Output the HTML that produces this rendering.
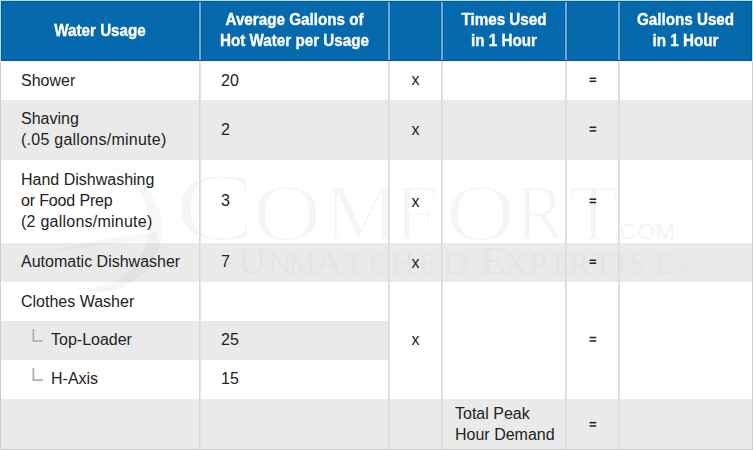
<!DOCTYPE html>
<html><head><meta charset="utf-8">
<style>
html,body{margin:0;padding:0;}
body{width:753px;height:450px;position:relative;overflow:hidden;background:#fff;font-family:"Liberation Sans",sans-serif;}
.a{position:absolute;}
.hd{position:absolute;color:#fff;font-weight:bold;font-size:16px;line-height:21.3px;text-align:center;white-space:nowrap;transform:scaleX(0.95);-webkit-text-stroke:0.35px #fff;}
.t{position:absolute;color:#222;font-size:16px;line-height:21.5px;white-space:nowrap;}
.vl{position:absolute;width:1px;background:#d9d9d9;top:61px;height:388px;}
.vr{position:absolute;width:1px;background:#e4e4e4;top:61px;height:388px;}
.hv{position:absolute;width:2px;background:#66ade0;top:1px;height:59px;}
.hh{position:absolute;width:1px;background:#055d99;top:1px;height:59px;}
.c{position:absolute;color:#222;font-size:16px;line-height:20px;text-align:center;}
.e{position:absolute;color:#222;font-size:13px;line-height:20px;text-align:center;}
</style></head><body>
<!-- header -->
<div class="a" style="left:0;top:0;width:753px;height:61px;background:#0569ae;"></div>
<div class="a" style="left:0;top:60px;width:753px;height:1px;background:#07568c;"></div>
<div class="a" style="left:0;top:61px;width:753px;height:1px;background:#eefbff;"></div>

<!-- gray rows -->
<div class="a" style="left:0;top:100px;width:753px;height:60px;background:#eaeaea;"></div>
<div class="a" style="left:0;top:243px;width:753px;height:39px;background:#eaeaea;"></div>
<div class="a" style="left:0;top:321px;width:389px;height:39px;background:#eaeaea;"></div>
<div class="a" style="left:0;top:399px;width:753px;height:51px;background:#eaeaea;"></div>

<!-- watermark -->
<svg class="a" style="left:0;top:0;" width="753" height="450">
<defs><mask id="cm"><rect width="753" height="450" fill="#fff"/><circle cx="86" cy="225" r="63" fill="#000"/></mask></defs>
<g fill="#000" fill-opacity="0.03">
<circle cx="99" cy="229" r="63" mask="url(#cm)"/>
<path d="M158 232 C130 235 90 240 52 252 C90 245 130 242 156 241 Z"/>
</g>
<g fill="#f5f5f5" stroke="#fff" stroke-width="2" font-family="Liberation Serif">
<text transform="translate(175 240) scale(1.236 1)" font-size="97">C</text>
<text transform="translate(252.4 240) scale(1.196 1)" font-size="80">O</text>
<text transform="translate(324 240) scale(1.045 1)" font-size="80">M</text>
<text transform="translate(394 240)" font-size="80">F</text>
<text transform="translate(445.4 240) scale(1.216 1)" font-size="80">O</text>
<text transform="translate(515.1 240) scale(0.94 1)" font-size="80">R</text>
<text transform="translate(569 240)" font-size="80">T</text>
</g>
<g fill="#f4f4f4" font-family="Liberation Sans">
<text transform="translate(613 239) scale(1.08 1)" font-size="22">.COM</text>
</g>
<g fill="#e4e4e4" font-family="Liberation Serif">
<text transform="translate(238 274)" font-size="39">U</text>
<text transform="translate(268 274)" font-size="32">N</text>
<text transform="translate(289 274) scale(0.92 1)" font-size="32">M</text>
<text transform="translate(314 274) scale(1.3 1)" font-size="32">A</text>
<text transform="translate(344 274)" font-size="32">T</text>
<text transform="translate(370 274) scale(0.84 1)" font-size="32">C</text>
<text transform="translate(391 274)" font-size="32">H</text>
<text transform="translate(419 274) scale(0.88 1)" font-size="32">E</text>
<text transform="translate(443 274) scale(1.14 1)" font-size="32">D</text>
<text transform="translate(480 274) scale(1.1 1)" font-size="39">E</text>
<text transform="translate(504 274)" font-size="32">X</text>
<text transform="translate(529 274)" font-size="32">P</text>
<text transform="translate(553 274) scale(0.88 1)" font-size="32">E</text>
<text transform="translate(569 274)" font-size="32">R</text>
<text transform="translate(592 274) scale(1.1 1)" font-size="32">T</text>
<text transform="translate(617 274) scale(0.8 1)" font-size="32">I</text>
<text transform="translate(629 274) scale(0.93 1)" font-size="32">S</text>
<text transform="translate(655 274)" font-size="32">E</text>
<text transform="translate(680 274) scale(1.15 1)" font-size="17" font-family="Liberation Sans">&#174;</text>
</g>
</svg>
<!-- vertical lines body -->
<div class="vl" style="left:199px;"></div><div class="vr" style="left:200px;"></div>
<div class="vl" style="left:388px;"></div><div class="vr" style="left:389px;"></div>
<div class="vl" style="left:441px;"></div><div class="vr" style="left:442px;"></div>
<div class="vl" style="left:565px;"></div><div class="vr" style="left:566px;"></div>
<div class="vl" style="left:618px;"></div><div class="vr" style="left:619px;"></div>
<!-- header lines -->
<div class="hh" style="left:198px;"></div><div class="hv" style="left:199px;"></div><div class="hh" style="left:201px;"></div>
<div class="hh" style="left:387px;"></div><div class="hv" style="left:388px;"></div><div class="hh" style="left:390px;"></div>
<div class="hh" style="left:440px;"></div><div class="hv" style="left:441px;"></div><div class="hh" style="left:443px;"></div>
<div class="hh" style="left:564px;"></div><div class="hv" style="left:565px;"></div><div class="hh" style="left:567px;"></div>
<div class="hh" style="left:617px;"></div><div class="hv" style="left:618px;"></div><div class="hh" style="left:620px;"></div>

<!-- borders -->
<div class="a" style="left:0;top:0;width:753px;height:1px;background:#b5daf2;"></div>
<div class="a" style="left:0;top:1px;width:753px;height:1px;background:#055a94;"></div>
<div class="a" style="left:0;top:0;width:1px;height:61px;background:#b5daf2;"></div>
<div class="a" style="left:1px;top:1px;width:1px;height:60px;background:#055a94;"></div>
<div class="a" style="left:752px;top:0;width:1px;height:61px;background:#c5dced;"></div>
<div class="a" style="left:751px;top:1px;width:1px;height:60px;background:#055a94;"></div>
<div class="a" style="left:0;top:62px;width:1px;height:388px;background:#cdcdcd;"></div>
<div class="a" style="left:752px;top:62px;width:1px;height:388px;background:#cdcdcd;"></div>
<div class="a" style="left:0;top:449px;width:753px;height:1px;background:#cdcdcd;"></div>

<!-- header text -->
<div class="hd" style="left:0;width:200px;top:20px;">Water Usage</div>
<div class="hd" style="left:200px;width:189px;top:9px;">Average Gallons of<br>Hot Water per Usage</div>
<div class="hd" style="left:442px;width:124px;top:9px;">Times Used<br>in 1 Hour</div>
<div class="hd" style="left:619px;width:133px;top:9px;">Gallons Used<br>in 1 Hour</div>

<!-- body text col1 -->
<div class="t" style="left:21px;top:70px;">Shower</div>
<div class="t" style="left:21px;top:108px;line-height:21px;">Shaving<br><span style="letter-spacing:0.25px">(.05 gallons/minute)</span></div>
<div class="t" style="left:21px;top:169px;line-height:21px;">Hand Dishwashing<br><span style="letter-spacing:-0.15px">or Food Prep</span><br><span style="letter-spacing:0.24px">(2 gallons/minute)</span></div>
<div class="t" style="left:21px;top:251px;">Automatic Dishwasher</div>
<div class="t" style="left:21px;top:291px;">Clothes Washer</div>
<div class="t" style="left:51px;top:329px;">Top-Loader</div>
<div class="t" style="left:51px;top:368px;">H-Axis</div>

<!-- L icons -->
<svg class="a" style="left:0;top:0;" width="753" height="450">
<path d="M33.4 329V341.1H43" fill="none" stroke="#b0b0b0" stroke-width="1.8"/>
<path d="M33.4 368V380.1H43" fill="none" stroke="#b0b0b0" stroke-width="1.8"/>
</svg>

<!-- col2 numbers -->
<div class="t" style="left:221px;top:70px;">20</div>
<div class="t" style="left:221px;top:119px;">2</div>
<div class="t" style="left:221px;top:190px;">3</div>
<div class="t" style="left:221px;top:251px;">7</div>
<div class="t" style="left:221px;top:329px;">25</div>
<div class="t" style="left:221px;top:368px;">15</div>

<!-- x col -->
<div class="c" style="left:389px;width:53px;top:70px;">x</div>
<div class="c" style="left:389px;width:53px;top:120px;">x</div>
<div class="c" style="left:389px;width:53px;top:192px;">x</div>
<div class="c" style="left:389px;width:53px;top:253px;">x</div>
<div class="c" style="left:389px;width:53px;top:330px;">x</div>

<!-- = col -->
<svg class="a" style="left:0;top:0;" width="753" height="450"><g fill="#222">
<rect x="589.6" y="77.55" width="6.6" height="1.5"/>
<rect x="589.6" y="80.55" width="6.6" height="1.5"/>
<rect x="589.6" y="126.55" width="6.6" height="1.5"/>
<rect x="589.6" y="130.15" width="6.6" height="1.5"/>
<rect x="589.6" y="198.45" width="6.6" height="1.5"/>
<rect x="589.6" y="201.75" width="6.6" height="1.5"/>
<rect x="589.6" y="259.55" width="6.6" height="1.5"/>
<rect x="589.6" y="262.45" width="6.6" height="1.5"/>
<rect x="589.6" y="336.75" width="6.6" height="1.5"/>
<rect x="589.6" y="340.25" width="6.6" height="1.5"/>
<rect x="589.6" y="421.95" width="6.6" height="1.5"/>
<rect x="589.6" y="425.25" width="6.6" height="1.5"/>
</g></svg>

<div class="t" style="left:455px;top:403px;line-height:21px;">Total Peak<br>Hour Demand</div>



</body></html>
